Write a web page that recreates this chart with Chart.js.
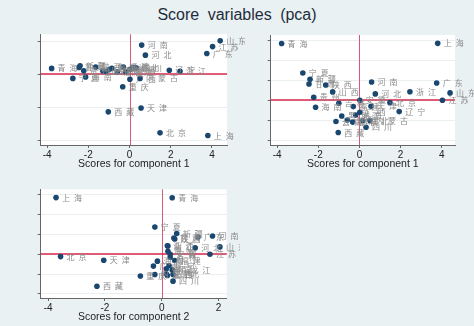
<!DOCTYPE html>
<html>
<head>
<meta charset="utf-8">
<script src="https://cdn.jsdelivr.net/npm/chart.js@4.4.0/dist/chart.umd.min.js"></script>
<style>
  html, body { margin: 0; padding: 0; background: #eaf1f3; }
  #wrap { position: relative; width: 474px; height: 326px; overflow: hidden; }
  #title {
    position: absolute; left: 0; top: 6px; width: 474px; text-align: center;
    font: 16px "Liberation Sans", Arial, sans-serif; color: #1e2d3b; word-spacing: 4px;
  }
  canvas { position: absolute; }
</style>
</head>
<body>
<div id="wrap">
  <div id="title">Score variables (pca)</div>
  <canvas id="c12" width="245" height="150" style="left:0;top:25px"></canvas>
  <canvas id="c13" width="237" height="150" style="left:237px;top:25px"></canvas>
  <canvas id="c23" width="240" height="151" style="left:0;top:175px"></canvas>
</div>
<script>
// province scores
const provinces = ["北京", "天津", "河北", "山西", "内蒙古", "辽宁", "吉林", "黑龙江",
  "上海", "江苏", "浙江", "安徽", "福建", "江西", "山东", "河南", "湖北", "湖南",
  "广东", "广西", "海南", "重庆", "四川", "贵州", "云南", "西藏", "陕西", "甘肃",
  "青海", "宁夏", "新疆"];
const comp1 = [1.48, 0.56, 0.77, -1.30, 0.51, 1.93, -1.00, -0.86,
  3.80, 4.03, 2.45, 0.02, -0.30, -0.59, 4.40, 0.59, 0.16, -0.18,
  3.75, 0.02, -2.13, -0.33, 0.32, -2.22, -1.14, -1.03, -1.64, -2.45,
  -3.78, -2.75, -2.40];
const comp2 = [-3.56, -2.04, 1.18, 0.22, -0.24, 0.26, 0.30, 0.37,
  -3.72, 1.70, 0.20, 0.30, 0.46, 0.16, 2.05, 1.79, 0.40, 0.16,
  1.28, -0.29, -0.15, -0.75, 0.40, 0.22, 0.20, -2.28, 0.46, 0.43,
  0.37, -0.24, 0.53];
const comp3 = [-0.12, -0.30, 0.32, 0.42, -1.02, -0.57, -0.15, -0.79,
  2.86, 0.00, 0.43, 0.00, -0.32, -0.99, 0.37, 0.92, -1.02, -0.74,
  0.87, -0.60, -0.35, -1.10, -1.36, 0.15, -1.07, -1.62, 0.77, 0.82,
  2.85, 1.37, 1.05];

const ticksComp1 = [-4, -2, 0, 2, 4];
const ticksComp2 = [-4, -2, 0, 2];
const ticksComp3 = [-2, -1, 0, 1, 2, 3];

Chart.defaults.font.family = "'Liberation Sans', Arial, sans-serif";
Chart.defaults.font.size = 10;
Chart.defaults.color = "#222";

const plotBg = {
  id: "plotBg",
  beforeDraw(chart) {
    const { ctx, chartArea: a } = chart;
    ctx.save();
    ctx.fillStyle = "#ffffff";
    ctx.fillRect(a.left, a.top, a.right - a.left, a.bottom - a.top);
    ctx.restore();
  },
};

// reference lines at zero (horizontal one a bit heavier, like the original)
const zeroLines = {
  id: "zeroLines",
  beforeDatasetsDraw(chart) {
    const { ctx, chartArea: a, scales } = chart;
    const px = Math.round(scales.x.getPixelForValue(0)) + 0.5;
    const py = Math.round(scales.y.getPixelForValue(0));
    ctx.save();
    ctx.strokeStyle = "#d65a78";
    ctx.lineWidth = 1;
    ctx.beginPath();
    ctx.moveTo(px, a.top);
    ctx.lineTo(px, a.bottom);
    ctx.stroke();
    ctx.strokeStyle = "#d8284a";
    ctx.lineWidth = 1.4;
    ctx.beginPath();
    ctx.moveTo(a.left, py);
    ctx.lineTo(a.right, py);
    ctx.stroke();
    ctx.restore();
  },
};

const pointLabels = {
  id: "pointLabels",
  afterDatasetsDraw(chart) {
    const ctx = chart.ctx;
    const meta = chart.getDatasetMeta(0);
    ctx.save();
    ctx.font = "8px 'Noto Sans CJK SC'";
    ctx.fillStyle = "#8a8a8a";
    ctx.textBaseline = "middle";
    meta.data.forEach((pt, i) => {
      [...provinces[i]].forEach((ch, k) => {
        ctx.fillText(ch, pt.x + 6 + k * 12, pt.y);
      });
    });
    ctx.restore();
  },
};

function makeChart(id, xs, ys, xRange, yRange, xTicks, yTicks, xTitle, pad, axisH, titlePad) {
  return new Chart(document.getElementById(id), {
    type: "scatter",
    data: {
      datasets: [{
        data: xs.map((v, i) => ({ x: v, y: ys[i] })),
        backgroundColor: "#1a476f",
        borderWidth: 0,
        pointRadius: 2.8,
        pointHoverRadius: 2.8,
      }],
    },
    options: {
      responsive: false,
      animation: false,
      events: [],
      layout: { padding: pad },
      plugins: { legend: { display: false }, tooltip: { enabled: false } },
      scales: {
        x: {
          type: "linear",
          min: xRange[0],
          max: xRange[1],
          afterBuildTicks: (s) => { s.ticks = xTicks.map((v) => ({ value: v })); },
          afterFit: (s) => { s.height = axisH; },
          grid: { drawOnChartArea: false, tickLength: 3, tickColor: "#666" },
          border: { color: "#666" },
          ticks: { padding: 1, color: "#222", font: { size: 10 } },
          title: { display: true, text: xTitle, color: "#222", font: { size: 10.5 }, padding: { top: 0, bottom: titlePad } },
        },
        y: {
          type: "linear",
          min: yRange[0],
          max: yRange[1],
          afterBuildTicks: (s) => { s.ticks = yTicks.map((v) => ({ value: v })); },
          afterFit: (s) => { s.width = 5; },
          grid: { color: "#eaf0f2", tickLength: 3, tickColor: "#666" },
          border: { color: "#666" },
          ticks: { display: false },
        },
      },
    },
    plugins: [plotBg, zeroLines, pointLabels],
  });
}

makeChart("c12", comp1, comp2, [-4.31, 4.73], [-4.3, 2.45], ticksComp1, ticksComp2,
  "Scores for component 1", { left: 35.7, top: 9.3, right: 18, bottom: 0 }, 30, 4.7);
makeChart("c13", comp1, comp3, [-4.31, 4.64], [-2.25, 3.28], ticksComp1, ticksComp3,
  "Scores for component 1", { left: 28.7, top: 10, right: 19, bottom: 0 }, 30, 4.7);
makeChart("c23", comp2, comp3, [-4.26, 2.29], [-2.21, 3.28], ticksComp2, ticksComp3,
  "Scores for component 2", { left: 35.7, top: 14.3, right: 13.3, bottom: 0 }, 28, 2.7);
</script>
</body>
</html>
